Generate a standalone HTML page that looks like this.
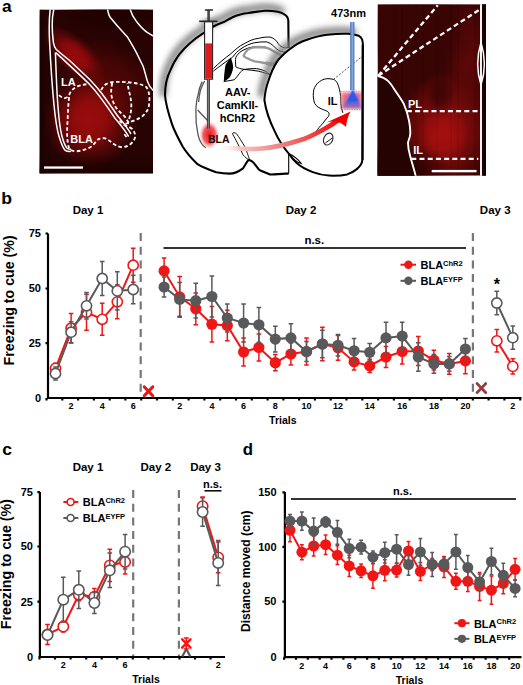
<!DOCTYPE html>
<html><head><meta charset="utf-8"><style>
html,body{margin:0;padding:0;background:#fff;}
svg{display:block;font-family:"Liberation Sans", sans-serif;}
</style></head><body>
<svg width="523" height="685" viewBox="0 0 523 685">
<text x="2.0" y="11.8" font-size="16.5" text-anchor="start" font-weight="bold" fill="#000" transform="translate(2.0,11.8) scale(1.05,1) translate(-2.0,-11.8)">a</text>
<defs>
  <filter id="blur1" x="-20%" y="-20%" width="140%" height="140%"><feGaussianBlur stdDeviation="1.6"/></filter>
  <filter id="blur2" x="-50%" y="-50%" width="200%" height="200%"><feGaussianBlur stdDeviation="3"/></filter>
  <filter id="blur6" x="-300%" y="-300%" width="700%" height="700%"><feGaussianBlur stdDeviation="7"/></filter>
  <filter id="blur10" x="-300%" y="-300%" width="700%" height="700%"><feGaussianBlur stdDeviation="10"/></filter>
  <clipPath id="clipP1"><rect x="39.5" y="9.5" width="113.5" height="164"/></clipPath>
  <clipPath id="clipP2"><rect x="377.5" y="4.2" width="108.5" height="171.5"/></clipPath>
  <radialGradient id="blaGlow" cx="0.5" cy="0.5" r="0.5">
    <stop offset="0" stop-color="#e8141c"/>
    <stop offset="0.6" stop-color="#f0303a" stop-opacity="0.8"/>
    <stop offset="1" stop-color="#ff9090" stop-opacity="0"/>
  </radialGradient>
  <linearGradient id="arrowG" gradientUnits="userSpaceOnUse" x1="215" y1="0" x2="345" y2="0">
    <stop offset="0" stop-color="#ffffff" stop-opacity="0"/>
    <stop offset="0.2" stop-color="#f6c4c4"/>
    <stop offset="0.6" stop-color="#f06a6a"/>
    <stop offset="1" stop-color="#ee0000"/>
  </linearGradient>
  <linearGradient id="fiberG" x1="0" y1="0" x2="1" y2="0">
    <stop offset="0" stop-color="#3f63b0"/>
    <stop offset="0.5" stop-color="#8eaee0"/>
    <stop offset="1" stop-color="#3f63b0"/>
  </linearGradient>
  <linearGradient id="coneG" x1="0" y1="0" x2="0" y2="1">
    <stop offset="0" stop-color="#1e50e8"/>
    <stop offset="0.55" stop-color="#4a58d0"/>
    <stop offset="1" stop-color="#c07090" stop-opacity="0.6"/>
  </linearGradient>
<radialGradient id="rg1"><stop offset="0" stop-color="#5a0606" stop-opacity="0.7"/><stop offset="0.35" stop-color="#5a0606" stop-opacity="0.63"/><stop offset="0.65" stop-color="#5a0606" stop-opacity="0.35"/><stop offset="1" stop-color="#5a0606" stop-opacity="0"/></radialGradient>
  <radialGradient id="rg2"><stop offset="0" stop-color="#960b0b" stop-opacity="0.85"/><stop offset="0.35" stop-color="#960b0b" stop-opacity="0.77"/><stop offset="0.65" stop-color="#960b0b" stop-opacity="0.42"/><stop offset="1" stop-color="#960b0b" stop-opacity="0"/></radialGradient>
  <radialGradient id="rg3"><stop offset="0" stop-color="#9a0a0a" stop-opacity="0.75"/><stop offset="0.35" stop-color="#9a0a0a" stop-opacity="0.68"/><stop offset="0.65" stop-color="#9a0a0a" stop-opacity="0.38"/><stop offset="1" stop-color="#9a0a0a" stop-opacity="0"/></radialGradient>
  <radialGradient id="rg4"><stop offset="0" stop-color="#b00e0e" stop-opacity="0.45"/><stop offset="0.35" stop-color="#b00e0e" stop-opacity="0.41"/><stop offset="0.65" stop-color="#b00e0e" stop-opacity="0.23"/><stop offset="1" stop-color="#b00e0e" stop-opacity="0"/></radialGradient>
  <radialGradient id="rg5"><stop offset="0" stop-color="#a80b0b" stop-opacity="0.5"/><stop offset="0.35" stop-color="#a80b0b" stop-opacity="0.45"/><stop offset="0.65" stop-color="#a80b0b" stop-opacity="0.25"/><stop offset="1" stop-color="#a80b0b" stop-opacity="0"/></radialGradient>
  <radialGradient id="rg6"><stop offset="0" stop-color="#200000" stop-opacity="1"/><stop offset="0.35" stop-color="#200000" stop-opacity="0.90"/><stop offset="0.65" stop-color="#200000" stop-opacity="0.50"/><stop offset="1" stop-color="#200000" stop-opacity="0"/></radialGradient>
  <radialGradient id="rg7"><stop offset="0" stop-color="#9a0d0d" stop-opacity="0.9"/><stop offset="0.35" stop-color="#9a0d0d" stop-opacity="0.81"/><stop offset="0.65" stop-color="#9a0d0d" stop-opacity="0.45"/><stop offset="1" stop-color="#9a0d0d" stop-opacity="0"/></radialGradient>
  <radialGradient id="rg8"><stop offset="0" stop-color="#6a0909" stop-opacity="0.7"/><stop offset="0.35" stop-color="#6a0909" stop-opacity="0.63"/><stop offset="0.65" stop-color="#6a0909" stop-opacity="0.35"/><stop offset="1" stop-color="#6a0909" stop-opacity="0"/></radialGradient>
  <radialGradient id="rg9"><stop offset="0" stop-color="#380404" stop-opacity="1"/><stop offset="0.35" stop-color="#380404" stop-opacity="0.90"/><stop offset="0.65" stop-color="#380404" stop-opacity="0.50"/><stop offset="1" stop-color="#380404" stop-opacity="0"/></radialGradient>
  <radialGradient id="rg10"><stop offset="0" stop-color="#2a0202" stop-opacity="1"/><stop offset="0.35" stop-color="#2a0202" stop-opacity="0.90"/><stop offset="0.65" stop-color="#2a0202" stop-opacity="0.50"/><stop offset="1" stop-color="#2a0202" stop-opacity="0"/></radialGradient>
  <radialGradient id="rg11"><stop offset="0" stop-color="#b81212" stop-opacity="0.5"/><stop offset="0.35" stop-color="#b81212" stop-opacity="0.45"/><stop offset="0.65" stop-color="#b81212" stop-opacity="0.25"/><stop offset="1" stop-color="#b81212" stop-opacity="0"/></radialGradient>
  <radialGradient id="rg12"><stop offset="0" stop-color="#200101" stop-opacity="0.55"/><stop offset="0.35" stop-color="#200101" stop-opacity="0.50"/><stop offset="0.65" stop-color="#200101" stop-opacity="0.28"/><stop offset="1" stop-color="#200101" stop-opacity="0"/></radialGradient>
</defs>

<!-- ============ photo 1 ============ -->
<g clip-path="url(#clipP1)">
  <rect x="39.5" y="9.5" width="113.5" height="164" fill="#280303"/>
  <ellipse cx="108" cy="78" rx="64.0" ry="36.0" fill="url(#rg1)" transform="rotate(25 108 78)"/>
    <ellipse cx="90" cy="120" rx="48.0" ry="48.0" fill="url(#rg2)"/>
    <ellipse cx="74" cy="54" rx="40.0" ry="17.0" fill="url(#rg3)" transform="rotate(42 74 54)"/>
  <ellipse cx="88" cy="118" rx="31.6" ry="33.6" fill="url(#rg4)"/>
    <ellipse cx="75" cy="56" rx="25.6" ry="14.6" fill="url(#rg5)" transform="rotate(42 75 56)"/>
    <ellipse cx="110" cy="14" rx="54.6" ry="19.6" fill="url(#rg6)"/>
    <g filter="url(#blur6)"><rect x="28" y="10" width="15" height="170" fill="#160000"/></g>
    <g filter="url(#blur6)"><rect x="30" y="165" width="140" height="20" fill="#1c0000"/></g>
  <g stroke="#fff" stroke-width="1.5" fill="none">
    <path d="M50.3,8 C48.8,20 49.2,35 49.6,42.4 C50.5,60 52,85 54,105 C55.5,120 57,130 59,136.3 C61,143 63,148 65.1,150.3 C67,151.5 69,151.5 71.1,151.3"/>
    <path d="M54.1,8 C51.5,18 51.8,30 53.4,42.4 C54,46 55,48 56.1,49.3 C60,53 64.5,56.5 69,60 C76,66.5 83,73 90.2,80 C94.5,84.5 98.5,89 102.2,94 C106,99 109,103.5 112.2,108 C115,112 117,115.5 119.3,118 C123.5,123 127.5,128 131,134"/>
    <path d="M55.4,52.5 C56,70 56.8,90 57.5,100 C58.5,115 59.5,127 62,136.3 C63.5,142 65,146 67.1,148.3 C68,149 70,149.3 71.1,149.3"/>
    <path d="M55.6,52.6 C59,55.5 63,59 66.6,62.6 C73.6,69.1 80.6,75.6 87.8,82.6 C92.1,87.1 96.1,91.6 99.8,96.6 C103.6,101.6 106.6,106.1 109.8,110.6 C112.6,114.6 114.6,118.1 116.9,120.6 C121.1,125.6 125.1,130.6 128.6,136.6"/>
    <path d="M107.4,8 C108,13 109,17 111.8,19.2 C118,27 124,33 127.5,37.1 C131,43 134,48 136.4,52.7 C139,58 141,62 143.1,66.2 C145,72 146,77 147.6,81.8 C149,86 151,89 155,91.9"/>
    <path d="M129.7,8 C131,13 133,17 136.4,21.4 C140,26 143,30 147.6,32.6 L155,37.1"/>
  </g>
  <g stroke="#fff" stroke-width="1.8" fill="none" stroke-dasharray="3.6,2.4">
    <path d="M59,95.1 C61,97 63,98 65.1,98.1 C67,97.5 68,96.5 69.1,95.1 C70,93 71,91 72.1,90.1 C74,88 76,87 78.1,86.1 C82,85 85,84.3 88.1,84.1"/>
    <path d="M69.1,97.1 C68.5,102 68.3,106 68.1,110.2 C67.8,117 67.3,124 67.1,130.2 C67,137 67.5,143 69.1,148.3 C71,150.5 73,151.3 76.1,151.3 C81,151 86,149.5 90.2,147.3 C94,145 96,141 98.2,139.3 C100,138.5 103,138 105.2,138.3 C108.5,139.5 111,142 114.2,144.3 C117,146 119,147 122.3,147.3 C125.5,147 128,146 130.3,144.3 C133,142 135,139 135.3,136.3 C135,133 134,131 132.3,129.2 C130,127 127,126 124.3,125.2 C122,123.5 120,121 118.3,119.2"/>
    <path d="M101.2,90.1 C102.5,87.5 104,85.5 106.2,84.1 C108.5,82.8 111,82 114.2,82 C121,81.8 128,82 134.3,83 C139,83.8 143,85 146.4,87.1 C148.5,90 149.4,94 149.4,98.1 C149.5,101.5 149.2,105 148.4,108.1 C147,111.5 145,114 142.4,116.2 C139,118.5 136,120 132.3,121.2 C129.5,122.3 127,123.3 124.3,124.2"/>
    <path d="M112.2,83 C111.5,87 111,90.5 111.2,94.1 C112,99 113.5,104 116.3,108.1 C118.5,111 121.5,113.5 124.3,116.2 C125.8,118 127,120 128.3,122.2 C129.5,117.5 131,113 131.3,108.1 C131.5,102 130.5,97 129.3,92.1 C128.5,89 128,86 127.3,83"/>
    <path d="M124.3,134.2 L128,139"/>
  </g>
  <text x="61" y="86.2" font-size="11" font-weight="bold" fill="#fff">LA</text>
  <text x="70.3" y="142.5" font-size="11" font-weight="bold" fill="#fff">BLA</text>
  <rect x="44" y="166.4" width="39" height="2.3" fill="#fff"/>
</g>

<!-- ============ photo 2 ============ -->
<g clip-path="url(#clipP2)">
  <rect x="377.5" y="4.2" width="108.5" height="171.5" fill="#380404"/>
  <ellipse cx="445" cy="130" rx="48.0" ry="58.0" fill="url(#rg7)"/>
    <ellipse cx="466.5" cy="60" rx="23.0" ry="66.0" fill="url(#rg8)"/>
    <ellipse cx="420" cy="35" rx="56.0" ry="46.0" fill="url(#rg9)"/>
    <ellipse cx="395" cy="170" rx="56.0" ry="28.0" fill="url(#rg10)"/>
  <ellipse cx="443" cy="137" rx="25.6" ry="27.6" fill="url(#rg11)"/>
    <ellipse cx="440" cy="97" rx="14.6" ry="19.6" fill="url(#rg12)"/>
  <g opacity="0.1" stroke="#000" stroke-width="1.2">
    <path d="M395,4V176M402,4V176M416,4V176M423,4V176M437,4V176M451,4V176M458,4V176M475,4V176"/>
  </g>
  <path d="M377,75.7 C383,77 386,79 388.2,81.2 C391,84 393,87 394.8,90 C398,95 401,99 403.6,103.4 C406,109 408,115 409.1,121 C410,126 410.5,131 410.2,134.2 C410,138 408,141 408,143 C408,148 409,152 410.2,156.2 C412,163 414,169 415.7,176 L370,176 Z" fill="#260303"/>
  <path d="M377,75.7 C383,77 386,79 388.2,81.2 C391,84 393,87 394.8,90 C398,95 401,99 403.6,103.4 C406,109 408,115 409.1,121 C410,126 410.5,131 410.2,134.2 C410,138 408,141 408,143 C408,148 409,152 410.2,156.2 C412,163 414,169 415.7,176" stroke="#fff" stroke-width="1.9" fill="none"/>
  <g stroke="#fff" stroke-width="2.3" fill="none" stroke-dasharray="5,3.2">
    <path d="M378.3,75.7 L437.7,5.3"/>
    <path d="M378.3,75.7 L479.4,9.7"/>
    <path d="M406.9,111.1 H480.5"/>
    <path d="M411.3,158.8 H478.3"/>
  </g>
  <rect x="482.3" y="4" width="4" height="172" fill="#160000"/>
  <path d="M481,4V176" stroke="#fff" stroke-width="1.9"/>
  <path d="M481,42.4 C476.5,57 476.5,71 481,84.8 C485.5,71 485.5,57 481,42.4 Z" fill="none" stroke="#fff" stroke-width="1.5"/>
  <text x="408" y="107.9" font-size="11" font-weight="bold" fill="#fff">PL</text>
  <text x="413.3" y="154" font-size="11" font-weight="bold" fill="#fff">IL</text>
  <rect x="431.7" y="169.9" width="44.9" height="2.4" fill="#fff"/>
</g>

<!-- ============ left brain ============ -->
<path d="M165,100 C165,85 167,77 170.3,70.4 C172.5,65 175.5,59.5 178.9,54.9 C182,51 185.5,47 189.3,43.7 C193.5,40 198,36.5 203,33.4 C206.5,31 210,28.5 213.3,26.5 C217,24.5 221,22.8 225,21.4 C227.5,20 230,18.5 232.6,17.2 C235,16 237.5,15.2 240.3,14.5 C243,13.8 245.5,13.3 248,13 C250.5,12.6 253,12.2 255.6,11.9 C259,11.4 262,11 265,10.7 C270,10.6 274,11 278,11.8 C281,12.5 284,14 286,15.5" fill="none" stroke="#808080" stroke-width="7" filter="url(#blur2)" transform="translate(-2,-3.5)"/>
<path d="M203,25 L215,20" stroke="#9a9a9a" stroke-width="6" filter="url(#blur2)"/>
<path d="M288.7,173.6 L285.8,173.6 C278,174 272,174.8 269.7,174.4 C265,172.5 261,171 259,169.6 C256,166 254,162.5 252.3,161.6 C251,160.5 249.5,160 248.3,160.2 C246,163 244.5,166.5 243,168.3 C238,172 234,173.6 229.6,173.6 C224,173.6 220,173 216.2,172.3 C208,169.5 202,167 197.5,164.2 C191,158 186,152 182.8,146.8 C177,136 174,130 172,124.1 C168,112 165.5,104 165,95 C165,85 167,77 170.3,70.4 C172.5,65 175.5,59.5 178.9,54.9 C182,51 185.5,47 189.3,43.7 C193.5,40 198,36.5 203,33.4 C206.5,31 210,28.5 213.3,26.5 C217,24.5 221,22.8 225,21.4 C227.5,20 230,18.5 232.6,17.2 C235,16 237.5,15.2 240.3,14.5 C243,13.8 245.5,13.3 248,13 C250.5,12.6 253,12.2 255.6,11.9 C259,11.4 262,11 265,10.7 C270,10.6 274,11 278,11.8 C281,12.5 284,14 286,15.5 C287.5,17 288.3,18.5 288.3,20 L288.6,48" fill="none" stroke="#000" stroke-width="2.1"/>
<!-- hippocampus -->
<g fill="none" stroke="#000" stroke-width="1">
  <path d="M213.4,68.6 C219,63 225,58 230.7,53.9 C235,50 239,46 244.4,43.6 C249,41 253,39 258.2,38.4 C262,37.5 266,36.8 270.2,37.1 C273,38 275.5,39.5 277.1,41.9 C278.5,44 279.5,45.5 280.6,46.2 C282,47.2 284,47.8 285.7,47.9 L289.2,47.3"/>
  <path d="M213.4,71.1 C220,66 226,61.5 232.4,57.4 C235,54 237.5,51 241,48.8 C245,46 250,43.5 254.8,42.7 C259,42 263,41.7 266.8,41.9 C270,43 272,44.5 273.7,46.2 C275.5,48 277,49.5 278.8,50.5 C282,52 285,52.3 287.5,52.2 L300,51"/>
  <path d="M235.8,66.8 C235.5,63 235.3,60 235.8,57.4 C237,55 239,53 241,51.4 C245,49 249,47.5 253,47 C257,46.7 261,46.7 265.1,47 C268.5,48 271,49.8 273.7,51.4 C276.5,53 279,54.3 282.3,54.8 L300,57"/>
  <path d="M235.8,66.8 C238,68 241,69 244.4,69.4 C249,70 254,70.5 258.2,71.1 C261,71.8 264,72.7 266.8,73.7 C268,74.2 269,74.5 270.2,74.6"/>
  <path d="M223.8,81.5 C227,81 231,80.5 234.1,79.8 C236,78 237.5,76 239.3,73.7 C240.5,71.5 242.5,70 244.4,69.4 C248,68.8 252,68.5 256.5,68.6 C259.5,69 262.5,70 265.1,71.1 C267,72.3 268.5,73.5 270.2,74.6"/>
</g>
<path d="M243.6,55.7 C244.5,53.5 246,51 247.9,49.6 C251,48 254.5,47.2 258.2,47 C261,47 264,47.3 266.8,47.9 C270,49 272.5,50.5 275.4,52.2 C277.5,53.5 280,55 282.3,55.7 C279,58 276,61 273.7,63.6 C270,63.5 268,63.3 265.1,63.1 C261,62.5 258,62 254.8,61.4 C251,60.5 248.5,59 246.1,57.7 C245,57 244,56.5 243.6,55.7 Z" fill="none" stroke="#989898" stroke-width="2.3"/>
<path d="M266,61 C270,63 275,64 280,64 L286,62 L284,66 C278,67 272,67 266,65 Z" fill="#aaa"/>
<path d="M223.8,81.5 C224,76 224.6,70 225.5,65.1 C227,62 228.8,59.5 230.7,57.4 C232,60.5 233,64 233.2,67.7 C232.5,71 231.5,74.5 229.8,77.2 C228,79 226,80.5 223.8,81.5 Z" fill="#000"/>
<!-- BLA structure lines -->
<g fill="none" stroke="#555" stroke-width="1.3">
  <path d="M202.2,81.6 C200,86 198.8,90 198.1,94.7 C196.5,100 196,105 195.9,111.1 C195.5,120 196.5,128 198.1,135.2 C199.5,141 202,145.5 205.8,147.8"/>
  <path d="M204.6,81 C203,84 201.5,87 200.5,90 C199.5,94 199,98 198.6,102"/>
  <path d="M197.6,110 L208,121"/>
</g>
<g fill="none" stroke="#000" stroke-width="0.9">
  <path d="M232.3,133.5 C236,140 240,148 243,154.9 C245,157 247,159 249.7,160.2 C248,155 246.5,151 245.7,148.2 C242,142 239,137 236.3,133.5 C235,132.5 233,132.5 232.3,133.5 Z"/>
</g>
<!-- BLA glow -->
<ellipse cx="209.3" cy="135" rx="10" ry="14" fill="url(#blaGlow)"/>

<!-- ============ right brain ============ -->
<path d="M264.4,100 C265,93 266.5,86 268.4,81 C271,73 273.5,67 276.8,62.1 C280,57 285,53 289.4,49.4 C295,45 300,42 306.3,40 C313,37.5 320,35.5 327.3,34.7 C335,33.8 342,33.5 348.3,33.7 C353,34 356,34.8 358.8,35.8" fill="none" stroke="#7c7c7c" stroke-width="7" filter="url(#blur2)" transform="translate(-3,-3)"/>
<path d="M264.4,100 C265,93 266.5,86 268.4,81 C271,73 273.5,67 276.8,62.1 C280,57 285,53 289.4,49.4 C295,45 300,42 306.3,40 C313,37.5 320,35.5 327.3,34.7 C335,33.8 342,33.5 348.3,33.7 C353,34 356,34.8 358.8,35.8 C361,37 362.5,39 362.6,42 L363,45.2 L362.3,160 C362,167 353,172.5 347.2,174.4 C341,175.8 335,175.8 328.8,175.6 C323,175.3 318,174 312.8,172.1 C306,169.5 300.5,166.5 296.7,163 C294,160.5 291.5,157.5 289.8,154.9 C284,148 279,141 275.1,132.1 C270,122 266,112 264.4,100 Z" fill="#fff" stroke="#000" stroke-width="2"/>
<g fill="none" stroke="#000" stroke-width="1.1">
  <path d="M288.8,153.5 C293,155.5 297.5,158.5 301.3,163.5 C297,162.5 292.5,158.5 288.8,153.5 Z"/>
  <path d="M288.7,153.8 V173.6"/>
</g>
<!-- IL contour -->
<path d="M333.5,79.4 C331,78.8 329,78.5 326.8,78.7 C323,79 320,81 317.4,83.4 C315,86 313.5,89 313.4,92.8 C313,96 313.5,100 314.7,103.5 C316,106 319,108 322.8,109.5 C325,110.5 328,111 328.8,112.8 C329.5,114 329,115.5 328.1,116.8 C326,119 324.5,121 322.8,123.5 C320,126 318,129 316,131.6" fill="none" stroke="#000" stroke-width="1"/>
<path d="M333.5,79.4 C336,80.5 338,82 340.2,92.8 C341,98 340.8,101 340.8,103.5 C341,107 342,110 342.8,112.8" fill="none" stroke="#000" stroke-width="1"/>
<ellipse cx="328.2" cy="139.1" rx="4.4" ry="6.2" transform="rotate(25 328.2 139.1)" stroke="#222" stroke-width="1.1" fill="none"/>
<path d="M325.4,143 L332.6,137.8" stroke="#222" stroke-width="1"/>
<path d="M333.5,79.4 L363,55.8" stroke="#000" stroke-width="0.7" stroke-dasharray="2,1.6"/>
<text x="327.8" y="104.8" font-size="11" font-weight="bold">IL</text>
<!-- IL box with glow -->
<g filter="url(#blur1)">
  <rect x="341.5" y="92.5" width="20" height="16.5" fill="#f05060" opacity="0.85"/>
  <path d="M352.9,89 C349,95 345,101 343,108 L362,108 C360,101 356,95 352.9,89 Z" fill="#4060e0"/>
  <rect x="343" y="104" width="18" height="5" fill="#c06a8a" opacity="0.7"/>
</g>
<path d="M352.9,90 C351,94 349,97.5 347.5,101 L358.3,101 C356.8,97.5 354.8,94 352.9,90 Z" fill="#2a5ae8" opacity="0.9"/>
<rect x="340.8" y="91.4" width="20.8" height="18.1" fill="none" stroke="#888" stroke-width="0.6" stroke-dasharray="1.5,1"/>
<path d="M362.6,45V160" stroke="#000" stroke-width="2"/>
<!-- fiber -->
<rect x="350.2" y="22.1" width="4.2" height="68" fill="url(#fiberG)"/>
<text x="348.5" y="17.3" font-size="11" font-weight="bold" text-anchor="middle">473nm</text>
<!-- arrow -->
<path d="M215,146.5 C235,149 250,149.5 262,148.5 C275,147.5 290,143.5 304.6,138.7 C314,135 320,131.5 326,128 C331,125 335,122.5 338,120.5" stroke="url(#arrowG)" stroke-width="4.6" fill="none"/>
<path d="M350.5,111.5 L327,122.3 C331,121.5 334.5,121.3 338,122 C341,123 343.5,124.5 346,127 C346.5,121.5 348,116 350.5,111.5 Z" fill="#ee0000"/>
<!-- syringe -->
<path d="M208.6,10.2V21" stroke="#4a4444" stroke-width="2.6"/><path d="M204.9,10H212.9" stroke="#222" stroke-width="1.5"/>
<path d="M199.2,21.3H217.5" stroke="#222" stroke-width="1.6"/>
<rect x="204.6" y="21.8" width="8" height="57.4" fill="#fff" stroke="#222" stroke-width="1.1"/>
<rect x="205.15" y="43.4" width="6.9" height="35.3" fill="#dd1a1e"/>
<path d="M207.4,79V128.6 M209.4,79V128.6" stroke="#333" stroke-width="1"/>
<path d="M208.4,79V128.6" stroke="#777" stroke-width="1.1"/>
<!-- labels -->
<text x="237.8" y="95.7" font-size="11" font-weight="bold" text-anchor="middle">AAV-</text>
<text x="237.5" y="109.2" font-size="11" font-weight="bold" text-anchor="middle">CamKII-</text>
<text x="237.4" y="122" font-size="11" font-weight="bold" text-anchor="middle">hChR2</text>
<text x="218.8" y="142.9" font-size="10.5" font-weight="bold" text-anchor="middle" fill="#1a0000">BLA</text>

<text x="1.2" y="204.3" font-size="16" text-anchor="start" font-weight="bold" fill="#000" transform="translate(1.2,204.3) scale(1.1,1) translate(-1.2,-204.3)">b</text>
<text x="88" y="213.8" font-size="11.5" text-anchor="middle" font-weight="bold" fill="#000" >Day 1</text>
<text x="301" y="213.9" font-size="11.5" text-anchor="middle" font-weight="bold" fill="#000" >Day 2</text>
<text x="495.2" y="213.8" font-size="11.5" text-anchor="middle" font-weight="bold" fill="#000" >Day 3</text>
<text transform="translate(13.6,300.4) rotate(-90)" font-size="14.2" text-anchor="middle" font-weight="bold">Freezing to cue (%)</text>
<path d="M48,233.5V398M45.5,233.5H48M45.5,288.5H48M45.5,343.2H48" stroke="#000" stroke-width="2.2" fill="none"/>
<path d="M47,398H521.5M46.5,398v2.5M62.3,398v2.5M78.1,398v2.5M93.9,398v2.5M109.7,398v2.5M125.4,398v2.5M141.2,398v2.5M157.0,398v2.5M172.8,398v2.5M188.6,398v2.5M204.4,398v2.5M220.2,398v2.5M236.0,398v2.5M251.8,398v2.5M267.6,398v2.5M283.4,398v2.5M299.1,398v2.5M314.9,398v2.5M330.7,398v2.5M346.5,398v2.5M362.3,398v2.5M378.1,398v2.5M393.9,398v2.5M409.7,398v2.5M425.5,398v2.5M441.2,398v2.5M457.0,398v2.5M472.8,398v2.5M488.6,398v2.5M504.4,398v2.5M520.2,398v2.5" stroke="#000" stroke-width="2.2" fill="none"/>
<text x="41" y="236.8" font-size="11" text-anchor="end" font-weight="bold" fill="#000" >75</text>
<text x="41" y="291.8" font-size="11" text-anchor="end" font-weight="bold" fill="#000" >50</text>
<text x="41" y="346.8" font-size="11" text-anchor="end" font-weight="bold" fill="#000" >25</text>
<text x="41" y="401.8" font-size="11" text-anchor="end" font-weight="bold" fill="#000" >0</text>
<text x="71.1" y="409" font-size="9" text-anchor="middle" font-weight="bold" fill="#000" >2</text>
<text x="102.2" y="409" font-size="9" text-anchor="middle" font-weight="bold" fill="#000" >4</text>
<text x="133.2" y="409" font-size="9" text-anchor="middle" font-weight="bold" fill="#000" >6</text>
<text x="179.7" y="409" font-size="9" text-anchor="middle" font-weight="bold" fill="#000" >2</text>
<text x="211.9" y="409" font-size="9" text-anchor="middle" font-weight="bold" fill="#000" >4</text>
<text x="243.6" y="409" font-size="9" text-anchor="middle" font-weight="bold" fill="#000" >6</text>
<text x="275.3" y="409" font-size="9" text-anchor="middle" font-weight="bold" fill="#000" >8</text>
<text x="306.5" y="409" font-size="9" text-anchor="middle" font-weight="bold" fill="#000" >10</text>
<text x="338" y="409" font-size="9" text-anchor="middle" font-weight="bold" fill="#000" >12</text>
<text x="369.7" y="409" font-size="9" text-anchor="middle" font-weight="bold" fill="#000" >14</text>
<text x="402.2" y="409" font-size="9" text-anchor="middle" font-weight="bold" fill="#000" >16</text>
<text x="433.9" y="409" font-size="9" text-anchor="middle" font-weight="bold" fill="#000" >18</text>
<text x="465.4" y="409" font-size="9" text-anchor="middle" font-weight="bold" fill="#000" >20</text>
<text x="512.8" y="409" font-size="9" text-anchor="middle" font-weight="bold" fill="#000" >2</text>
<text x="282.8" y="424" font-size="10.5" text-anchor="middle" font-weight="bold" fill="#000" >Trials</text>
<path d="M140.7,233V397M472.9,233V397" stroke="#777" stroke-width="2.2" stroke-dasharray="8,5.7" fill="none"/>
<path d="M163.5,248H466" stroke="#333" stroke-width="2" fill="none"/>
<text x="314.3" y="244.3" font-size="11.5" text-anchor="middle" font-weight="bold" fill="#000" >n.s.</text>
<polyline points="55.5,368.3 71.1,328.2 86.5,312.3 102.2,319.3 117.3,301.8 133.2,265.2" fill="none" stroke="#f01616" stroke-width="2.0"/>
<path d="M55.5,363.3V373.3M53.2,363.3h4.6M53.2,373.3h4.6" stroke="#f01616" stroke-width="1.5" fill="none"/>
<path d="M71.1,313.5V342.9M68.8,313.5h4.6M68.8,342.9h4.6" stroke="#f01616" stroke-width="1.5" fill="none"/>
<path d="M86.5,294.3V330.3M84.2,294.3h4.6M84.2,330.3h4.6" stroke="#f01616" stroke-width="1.5" fill="none"/>
<path d="M102.2,303.3V335.3M99.9,303.3h4.6M99.9,335.3h4.6" stroke="#f01616" stroke-width="1.5" fill="none"/>
<path d="M117.3,284.8V318.8M115.0,284.8h4.6M115.0,318.8h4.6" stroke="#f01616" stroke-width="1.5" fill="none"/>
<path d="M133.2,248.2V282.2M130.9,248.2h4.6M130.9,282.2h4.6" stroke="#f01616" stroke-width="1.5" fill="none"/>
<circle cx="55.5" cy="368.3" r="5.1000000000000005" fill="#fff" stroke="#f01616" stroke-width="1.6"/>
<circle cx="71.1" cy="328.2" r="5.1000000000000005" fill="#fff" stroke="#f01616" stroke-width="1.6"/>
<circle cx="86.5" cy="312.3" r="5.1000000000000005" fill="#fff" stroke="#f01616" stroke-width="1.6"/>
<circle cx="102.2" cy="319.3" r="5.1000000000000005" fill="#fff" stroke="#f01616" stroke-width="1.6"/>
<circle cx="117.3" cy="301.8" r="5.1000000000000005" fill="#fff" stroke="#f01616" stroke-width="1.6"/>
<circle cx="133.2" cy="265.2" r="5.1000000000000005" fill="#fff" stroke="#f01616" stroke-width="1.6"/>
<polyline points="55.5,373.5 71.1,332.2 86.5,305.8 102.2,278.5 117.3,290.9 133.2,289.5" fill="none" stroke="#58595b" stroke-width="2.0"/>
<path d="M55.5,367.0V380.0M53.2,367.0h4.6M53.2,380.0h4.6" stroke="#58595b" stroke-width="1.5" fill="none"/>
<path d="M71.1,321.7V342.7M68.8,321.7h4.6M68.8,342.7h4.6" stroke="#58595b" stroke-width="1.5" fill="none"/>
<path d="M86.5,292.5V319.1M84.2,292.5h4.6M84.2,319.1h4.6" stroke="#58595b" stroke-width="1.5" fill="none"/>
<path d="M102.2,261.5V295.5M99.9,261.5h4.6M99.9,295.5h4.6" stroke="#58595b" stroke-width="1.5" fill="none"/>
<path d="M117.3,271.7V310.1M115.0,271.7h4.6M115.0,310.1h4.6" stroke="#58595b" stroke-width="1.5" fill="none"/>
<path d="M133.2,275.2V303.8M130.9,275.2h4.6M130.9,303.8h4.6" stroke="#58595b" stroke-width="1.5" fill="none"/>
<circle cx="55.5" cy="373.5" r="5.1000000000000005" fill="#fff" stroke="#58595b" stroke-width="1.6"/>
<circle cx="71.1" cy="332.2" r="5.1000000000000005" fill="#fff" stroke="#58595b" stroke-width="1.6"/>
<circle cx="86.5" cy="305.8" r="5.1000000000000005" fill="#fff" stroke="#58595b" stroke-width="1.6"/>
<circle cx="102.2" cy="278.5" r="5.1000000000000005" fill="#fff" stroke="#58595b" stroke-width="1.6"/>
<circle cx="117.3" cy="290.9" r="5.1000000000000005" fill="#fff" stroke="#58595b" stroke-width="1.6"/>
<circle cx="133.2" cy="289.5" r="5.1000000000000005" fill="#fff" stroke="#58595b" stroke-width="1.6"/>
<polyline points="164.1,270.9 179.7,296.9 195.8,308.8 211.9,324.2 227.3,325.5 243.6,352.0 258.9,347.5 275.3,362.7 290.9,354.0 306.5,351.5 322.4,344.0 338.0,347.8 354.1,361.9 369.7,365.9 386.0,357.0 402.2,351.5 418.3,351.0 433.9,360.2 449.3,363.9 465.4,360.9" fill="none" stroke="#f01616" stroke-width="2.0"/>
<path d="M164.1,258.0V283.8M161.8,258.0h4.6M161.8,283.8h4.6" stroke="#f01616" stroke-width="1.5" fill="none"/>
<path d="M179.7,276.6V317.2M177.4,276.6h4.6M177.4,317.2h4.6" stroke="#f01616" stroke-width="1.5" fill="none"/>
<path d="M195.8,292.9V324.7M193.5,292.9h4.6M193.5,324.7h4.6" stroke="#f01616" stroke-width="1.5" fill="none"/>
<path d="M211.9,306.4V342.0M209.6,306.4h4.6M209.6,342.0h4.6" stroke="#f01616" stroke-width="1.5" fill="none"/>
<path d="M227.3,310.2V340.8M225.0,310.2h4.6M225.0,340.8h4.6" stroke="#f01616" stroke-width="1.5" fill="none"/>
<path d="M243.6,338.1V365.9M241.3,338.1h4.6M241.3,365.9h4.6" stroke="#f01616" stroke-width="1.5" fill="none"/>
<path d="M258.9,334.0V361.0M256.6,334.0h4.6M256.6,361.0h4.6" stroke="#f01616" stroke-width="1.5" fill="none"/>
<path d="M275.3,354.6V370.8M273.0,354.6h4.6M273.0,370.8h4.6" stroke="#f01616" stroke-width="1.5" fill="none"/>
<path d="M290.9,342.9V365.1M288.6,342.9h4.6M288.6,365.1h4.6" stroke="#f01616" stroke-width="1.5" fill="none"/>
<path d="M306.5,337.9V365.1M304.2,337.9h4.6M304.2,365.1h4.6" stroke="#f01616" stroke-width="1.5" fill="none"/>
<path d="M322.4,327.2V360.8M320.1,327.2h4.6M320.1,360.8h4.6" stroke="#f01616" stroke-width="1.5" fill="none"/>
<path d="M338.0,335.4V360.2M335.7,335.4h4.6M335.7,360.2h4.6" stroke="#f01616" stroke-width="1.5" fill="none"/>
<path d="M354.1,353.9V369.9M351.8,353.9h4.6M351.8,369.9h4.6" stroke="#f01616" stroke-width="1.5" fill="none"/>
<path d="M369.7,359.2V372.6M367.4,359.2h4.6M367.4,372.6h4.6" stroke="#f01616" stroke-width="1.5" fill="none"/>
<path d="M386.0,346.4V367.6M383.7,346.4h4.6M383.7,367.6h4.6" stroke="#f01616" stroke-width="1.5" fill="none"/>
<path d="M402.2,339.1V363.9M399.9,339.1h4.6M399.9,363.9h4.6" stroke="#f01616" stroke-width="1.5" fill="none"/>
<path d="M418.3,336.6V365.4M416.0,336.6h4.6M416.0,365.4h4.6" stroke="#f01616" stroke-width="1.5" fill="none"/>
<path d="M433.9,350.3V370.1M431.6,350.3h4.6M431.6,370.1h4.6" stroke="#f01616" stroke-width="1.5" fill="none"/>
<path d="M449.3,353.5V374.3M447.0,353.5h4.6M447.0,374.3h4.6" stroke="#f01616" stroke-width="1.5" fill="none"/>
<path d="M465.4,348.0V373.8M463.1,348.0h4.6M463.1,373.8h4.6" stroke="#f01616" stroke-width="1.5" fill="none"/>
<circle cx="164.1" cy="270.9" r="5.6" fill="#f01616"/>
<circle cx="179.7" cy="296.9" r="5.6" fill="#f01616"/>
<circle cx="195.8" cy="308.8" r="5.6" fill="#f01616"/>
<circle cx="211.9" cy="324.2" r="5.6" fill="#f01616"/>
<circle cx="227.3" cy="325.5" r="5.6" fill="#f01616"/>
<circle cx="243.6" cy="352.0" r="5.6" fill="#f01616"/>
<circle cx="258.9" cy="347.5" r="5.6" fill="#f01616"/>
<circle cx="275.3" cy="362.7" r="5.6" fill="#f01616"/>
<circle cx="290.9" cy="354.0" r="5.6" fill="#f01616"/>
<circle cx="306.5" cy="351.5" r="5.6" fill="#f01616"/>
<circle cx="322.4" cy="344.0" r="5.6" fill="#f01616"/>
<circle cx="338.0" cy="347.8" r="5.6" fill="#f01616"/>
<circle cx="354.1" cy="361.9" r="5.6" fill="#f01616"/>
<circle cx="369.7" cy="365.9" r="5.6" fill="#f01616"/>
<circle cx="386.0" cy="357.0" r="5.6" fill="#f01616"/>
<circle cx="402.2" cy="351.5" r="5.6" fill="#f01616"/>
<circle cx="418.3" cy="351.0" r="5.6" fill="#f01616"/>
<circle cx="433.9" cy="360.2" r="5.6" fill="#f01616"/>
<circle cx="449.3" cy="363.9" r="5.6" fill="#f01616"/>
<circle cx="465.4" cy="360.9" r="5.6" fill="#f01616"/>
<polyline points="164.1,287.0 179.7,299.4 195.8,300.7 211.9,296.5 227.3,318.0 243.6,323.0 258.9,324.8 275.3,339.1 290.9,337.9 306.5,351.5 322.4,344.0 338.0,345.3 354.1,350.8 369.7,352.3 386.0,337.9 402.2,336.1 418.3,357.0 433.9,363.9 449.3,363.9 465.4,349.0" fill="none" stroke="#58595b" stroke-width="2.0"/>
<path d="M164.1,277.0V297.0M161.8,277.0h4.6M161.8,297.0h4.6" stroke="#58595b" stroke-width="1.5" fill="none"/>
<path d="M179.7,282.5V316.3M177.4,282.5h4.6M177.4,316.3h4.6" stroke="#58595b" stroke-width="1.5" fill="none"/>
<path d="M195.8,283.3V318.1M193.5,283.3h4.6M193.5,318.1h4.6" stroke="#58595b" stroke-width="1.5" fill="none"/>
<path d="M211.9,275.9V317.1M209.6,275.9h4.6M209.6,317.1h4.6" stroke="#58595b" stroke-width="1.5" fill="none"/>
<path d="M227.3,303.9V332.1M225.0,303.9h4.6M225.0,332.1h4.6" stroke="#58595b" stroke-width="1.5" fill="none"/>
<path d="M243.6,303.9V342.1M241.3,303.9h4.6M241.3,342.1h4.6" stroke="#58595b" stroke-width="1.5" fill="none"/>
<path d="M258.9,307.4V342.2M256.6,307.4h4.6M256.6,342.2h4.6" stroke="#58595b" stroke-width="1.5" fill="none"/>
<path d="M275.3,326.2V352.0M273.0,326.2h4.6M273.0,352.0h4.6" stroke="#58595b" stroke-width="1.5" fill="none"/>
<path d="M290.9,323.7V352.1M288.6,323.7h4.6M288.6,352.1h4.6" stroke="#58595b" stroke-width="1.5" fill="none"/>
<path d="M306.5,341.5V361.5M304.2,341.5h4.6M304.2,361.5h4.6" stroke="#58595b" stroke-width="1.5" fill="none"/>
<path d="M322.4,330.3V357.7M320.1,330.3h4.6M320.1,357.7h4.6" stroke="#58595b" stroke-width="1.5" fill="none"/>
<path d="M338.0,334.6V356.0M335.7,334.6h4.6M335.7,356.0h4.6" stroke="#58595b" stroke-width="1.5" fill="none"/>
<path d="M354.1,338.6V363.0M351.8,338.6h4.6M351.8,363.0h4.6" stroke="#58595b" stroke-width="1.5" fill="none"/>
<path d="M369.7,343.6V361.0M367.4,343.6h4.6M367.4,361.0h4.6" stroke="#58595b" stroke-width="1.5" fill="none"/>
<path d="M386.0,322.2V353.6M383.7,322.2h4.6M383.7,353.6h4.6" stroke="#58595b" stroke-width="1.5" fill="none"/>
<path d="M402.2,322.2V350.0M399.9,322.2h4.6M399.9,350.0h4.6" stroke="#58595b" stroke-width="1.5" fill="none"/>
<path d="M418.3,342.7V371.3M416.0,342.7h4.6M416.0,371.3h4.6" stroke="#58595b" stroke-width="1.5" fill="none"/>
<path d="M433.9,354.5V373.3M431.6,354.5h4.6M431.6,373.3h4.6" stroke="#58595b" stroke-width="1.5" fill="none"/>
<path d="M449.3,356.5V371.3M447.0,356.5h4.6M447.0,371.3h4.6" stroke="#58595b" stroke-width="1.5" fill="none"/>
<path d="M465.4,338.6V359.4M463.1,338.6h4.6M463.1,359.4h4.6" stroke="#58595b" stroke-width="1.5" fill="none"/>
<circle cx="164.1" cy="287.0" r="5.6" fill="#58595b"/>
<circle cx="179.7" cy="299.4" r="5.6" fill="#58595b"/>
<circle cx="195.8" cy="300.7" r="5.6" fill="#58595b"/>
<circle cx="211.9" cy="296.5" r="5.6" fill="#58595b"/>
<circle cx="227.3" cy="318.0" r="5.6" fill="#58595b"/>
<circle cx="243.6" cy="323.0" r="5.6" fill="#58595b"/>
<circle cx="258.9" cy="324.8" r="5.6" fill="#58595b"/>
<circle cx="275.3" cy="339.1" r="5.6" fill="#58595b"/>
<circle cx="290.9" cy="337.9" r="5.6" fill="#58595b"/>
<circle cx="306.5" cy="351.5" r="5.6" fill="#58595b"/>
<circle cx="322.4" cy="344.0" r="5.6" fill="#58595b"/>
<circle cx="338.0" cy="345.3" r="5.6" fill="#58595b"/>
<circle cx="354.1" cy="350.8" r="5.6" fill="#58595b"/>
<circle cx="369.7" cy="352.3" r="5.6" fill="#58595b"/>
<circle cx="386.0" cy="337.9" r="5.6" fill="#58595b"/>
<circle cx="402.2" cy="336.1" r="5.6" fill="#58595b"/>
<circle cx="418.3" cy="357.0" r="5.6" fill="#58595b"/>
<circle cx="433.9" cy="363.9" r="5.6" fill="#58595b"/>
<circle cx="449.3" cy="363.9" r="5.6" fill="#58595b"/>
<circle cx="465.4" cy="349.0" r="5.6" fill="#58595b"/>
<polyline points="496.8,340.8 512.8,366.4" fill="none" stroke="#f01616" stroke-width="2.0"/>
<path d="M496.8,329.5V352.1M494.5,329.5h4.6M494.5,352.1h4.6" stroke="#f01616" stroke-width="1.5" fill="none"/>
<path d="M512.8,358.7V374.1M510.5,358.7h4.6M510.5,374.1h4.6" stroke="#f01616" stroke-width="1.5" fill="none"/>
<circle cx="496.8" cy="340.8" r="5.1000000000000005" fill="#fff" stroke="#f01616" stroke-width="1.6"/>
<circle cx="512.8" cy="366.4" r="5.1000000000000005" fill="#fff" stroke="#f01616" stroke-width="1.6"/>
<polyline points="496.8,303.0 512.8,337.7" fill="none" stroke="#58595b" stroke-width="2.0"/>
<path d="M496.8,291.3V314.7M494.5,291.3h4.6M494.5,314.7h4.6" stroke="#58595b" stroke-width="1.5" fill="none"/>
<path d="M512.8,326.1V349.3M510.5,326.1h4.6M510.5,349.3h4.6" stroke="#58595b" stroke-width="1.5" fill="none"/>
<circle cx="496.8" cy="303.0" r="5.1000000000000005" fill="#fff" stroke="#58595b" stroke-width="1.6"/>
<circle cx="512.8" cy="337.7" r="5.1000000000000005" fill="#fff" stroke="#58595b" stroke-width="1.6"/>
<text x="496.8" y="290" font-size="16" text-anchor="middle" font-weight="bold" fill="#000" >*</text>
<path d="M144.2,386.8L152.8,395.8M152.8,386.8L144.2,395.8" stroke="#58595b" stroke-width="2.8" stroke-linecap="round"/>
<path d="M144.2,386.8L152.8,395.8M152.8,386.8L144.2,395.8" stroke="#f01616" stroke-width="2.6" stroke-linecap="round" opacity="1.0"/>
<path d="M477.09999999999997,383.6L485.7,392.6M485.7,383.6L477.09999999999997,392.6" stroke="#58595b" stroke-width="2.8" stroke-linecap="round"/>
<path d="M477.09999999999997,383.6L485.7,392.6M485.7,383.6L477.09999999999997,392.6" stroke="#f01616" stroke-width="2.6" stroke-linecap="round" opacity="0.45"/>
<path d="M400.5,264.7H416" stroke="#f01616" stroke-width="2"/>
<circle cx="408.4" cy="264.7" r="4.2" fill="#f01616"/>
<text x="420.5" y="269.0" font-size="11" text-anchor="start" font-weight="bold" fill="#000" >BLA<tspan font-size="7.5" dy="-3.5">ChR2</tspan></text>
<path d="M400.5,280.8H416" stroke="#58595b" stroke-width="2"/>
<circle cx="408.4" cy="280.8" r="4.2" fill="#58595b"/>
<text x="420.5" y="285.1" font-size="11" text-anchor="start" font-weight="bold" fill="#000" >BLA<tspan font-size="7.5" dy="-3.5">EYFP</tspan></text>
<text x="2.2" y="455" font-size="16" text-anchor="start" font-weight="bold" fill="#000" transform="translate(2.2,455) scale(1.1,1) translate(-2.2,-455)">c</text>
<text x="88" y="470.5" font-size="11.5" text-anchor="middle" font-weight="bold" fill="#000" >Day 1</text>
<text x="155.9" y="470.5" font-size="11.5" text-anchor="middle" font-weight="bold" fill="#000" >Day 2</text>
<text x="205.5" y="470.5" font-size="11.5" text-anchor="middle" font-weight="bold" fill="#000" >Day 3</text>
<text transform="translate(11.1,564.1) rotate(-90)" font-size="14.2" text-anchor="middle" font-weight="bold">Freezing to cue (%)</text>
<path d="M39.9,492V657M37.4,492.2H39.9M37.4,546.5H39.9M37.4,601.7H39.9" stroke="#000" stroke-width="2.2" fill="none"/>
<path d="M38.5,657H225M39.5,657v2.5M55.0,657v2.5M70.6,657v2.5M86.2,657v2.5M101.7,657v2.5M117.2,657v2.5M132.8,657v2.5M148.4,657v2.5M163.9,657v2.5M179.5,657v2.5M195.0,657v2.5M210.6,657v2.5" stroke="#000" stroke-width="2.2" fill="none"/>
<text x="33" y="495.8" font-size="11" text-anchor="end" font-weight="bold" fill="#000" >75</text>
<text x="33" y="550.3" font-size="11" text-anchor="end" font-weight="bold" fill="#000" >50</text>
<text x="33" y="605.5" font-size="11" text-anchor="end" font-weight="bold" fill="#000" >25</text>
<text x="33" y="660.8" font-size="11" text-anchor="end" font-weight="bold" fill="#000" >0</text>
<text x="63.3" y="667.5" font-size="9" text-anchor="middle" font-weight="bold" fill="#000" >2</text>
<text x="94.4" y="667.5" font-size="9" text-anchor="middle" font-weight="bold" fill="#000" >4</text>
<text x="125.1" y="667.5" font-size="9" text-anchor="middle" font-weight="bold" fill="#000" >6</text>
<text x="218.2" y="667.5" font-size="9" text-anchor="middle" font-weight="bold" fill="#000" >2</text>
<text x="146" y="683" font-size="10.5" text-anchor="middle" font-weight="bold" fill="#000" >Trials</text>
<path d="M133.2,490V656M178.9,490V656" stroke="#777" stroke-width="2.2" stroke-dasharray="8,5.7" fill="none"/>
<text x="212.5" y="488.3" font-size="11" text-anchor="middle" font-weight="bold" fill="#000" >n.s.</text>
<path d="M204.5,490.8H221.5" stroke="#000" stroke-width="1.5"/>
<polyline points="47.5,634.5 63.3,626.6 78.8,594.7 94.4,596.7 109.8,565.4 125.1,562.0" fill="none" stroke="#f01616" stroke-width="2.0"/>
<path d="M47.5,624.5V644.5M45.2,624.5h4.6M45.2,644.5h4.6" stroke="#f01616" stroke-width="1.5" fill="none"/>
<path d="M63.3,621.2V632.0M61.0,621.2h4.6M61.0,632.0h4.6" stroke="#f01616" stroke-width="1.5" fill="none"/>
<path d="M78.8,588.7V600.7M76.5,588.7h4.6M76.5,600.7h4.6" stroke="#f01616" stroke-width="1.5" fill="none"/>
<path d="M94.4,588.5V604.9M92.1,588.5h4.6M92.1,604.9h4.6" stroke="#f01616" stroke-width="1.5" fill="none"/>
<path d="M109.8,549.3V581.5M107.5,549.3h4.6M107.5,581.5h4.6" stroke="#f01616" stroke-width="1.5" fill="none"/>
<path d="M125.1,550.1V573.9M122.8,550.1h4.6M122.8,573.9h4.6" stroke="#f01616" stroke-width="1.5" fill="none"/>
<circle cx="47.5" cy="634.5" r="5.2" fill="#fff" stroke="#f01616" stroke-width="1.6"/>
<circle cx="63.3" cy="626.6" r="5.2" fill="#fff" stroke="#f01616" stroke-width="1.6"/>
<circle cx="78.8" cy="594.7" r="5.2" fill="#fff" stroke="#f01616" stroke-width="1.6"/>
<circle cx="94.4" cy="596.7" r="5.2" fill="#fff" stroke="#f01616" stroke-width="1.6"/>
<circle cx="109.8" cy="565.4" r="5.2" fill="#fff" stroke="#f01616" stroke-width="1.6"/>
<circle cx="125.1" cy="562.0" r="5.2" fill="#fff" stroke="#f01616" stroke-width="1.6"/>
<polyline points="47.5,635.0 63.3,599.7 78.8,589.8 94.4,603.0 109.8,570.3 125.1,551.7" fill="none" stroke="#58595b" stroke-width="2.0"/>
<path d="M47.5,631.0V639.0M45.2,631.0h4.6M45.2,639.0h4.6" stroke="#58595b" stroke-width="1.5" fill="none"/>
<path d="M63.3,577.3V622.1M61.0,577.3h4.6M61.0,622.1h4.6" stroke="#58595b" stroke-width="1.5" fill="none"/>
<path d="M78.8,571.1V608.5M76.5,571.1h4.6M76.5,608.5h4.6" stroke="#58595b" stroke-width="1.5" fill="none"/>
<path d="M94.4,592.6V613.4M92.1,592.6h4.6M92.1,613.4h4.6" stroke="#58595b" stroke-width="1.5" fill="none"/>
<path d="M109.8,553.1V587.5M107.5,553.1h4.6M107.5,587.5h4.6" stroke="#58595b" stroke-width="1.5" fill="none"/>
<path d="M125.1,534.4V569.0M122.8,534.4h4.6M122.8,569.0h4.6" stroke="#58595b" stroke-width="1.5" fill="none"/>
<circle cx="47.5" cy="635.0" r="5.2" fill="#fff" stroke="#58595b" stroke-width="1.6"/>
<circle cx="63.3" cy="599.7" r="5.2" fill="#fff" stroke="#58595b" stroke-width="1.6"/>
<circle cx="78.8" cy="589.8" r="5.2" fill="#fff" stroke="#58595b" stroke-width="1.6"/>
<circle cx="94.4" cy="603.0" r="5.2" fill="#fff" stroke="#58595b" stroke-width="1.6"/>
<circle cx="109.8" cy="570.3" r="5.2" fill="#fff" stroke="#58595b" stroke-width="1.6"/>
<circle cx="125.1" cy="551.7" r="5.2" fill="#fff" stroke="#58595b" stroke-width="1.6"/>
<polyline points="202.6,506.2 218.2,557.4" fill="none" stroke="#f01616" stroke-width="2.0"/>
<path d="M202.6,497.0V515.4M200.3,497.0h4.6M200.3,515.4h4.6" stroke="#f01616" stroke-width="1.5" fill="none"/>
<path d="M218.2,542.0V572.8M215.9,542.0h4.6M215.9,572.8h4.6" stroke="#f01616" stroke-width="1.5" fill="none"/>
<circle cx="202.6" cy="506.2" r="5.2" fill="#fff" stroke="#f01616" stroke-width="1.6"/>
<circle cx="218.2" cy="557.4" r="5.2" fill="#fff" stroke="#f01616" stroke-width="1.6"/>
<polyline points="202.6,512.0 218.2,562.9" fill="none" stroke="#58595b" stroke-width="2.0"/>
<path d="M202.6,497.8V526.2M200.3,497.8h4.6M200.3,526.2h4.6" stroke="#58595b" stroke-width="1.5" fill="none"/>
<path d="M218.2,540.4V585.4M215.9,540.4h4.6M215.9,585.4h4.6" stroke="#58595b" stroke-width="1.5" fill="none"/>
<circle cx="202.6" cy="512.0" r="5.2" fill="#fff" stroke="#58595b" stroke-width="1.6"/>
<circle cx="218.2" cy="562.9" r="5.2" fill="#fff" stroke="#58595b" stroke-width="1.6"/>
<path d="M182.3,656.5L186.3,649L190.3,656.5" fill="none" stroke="#58595b" stroke-width="2.2"/>
<path d="M186.3,638.0V649.0M183.8,638.0h5M183.8,649.0h5" stroke="#f01616" stroke-width="1.6"/>
<path d="M182.10000000000002,639.3L190.5,647.7M190.5,639.3L182.10000000000002,647.7" stroke="#f01616" stroke-width="2.4" stroke-linecap="round"/>
<path d="M63.4,502.0H78.3" stroke="#f01616" stroke-width="2"/>
<circle cx="70.6" cy="502.0" r="3.5" fill="#fff" stroke="#f01616" stroke-width="1.7"/>
<text x="82.8" y="506.3" font-size="11" text-anchor="start" font-weight="bold" fill="#000" >BLA<tspan font-size="7.5" dy="-3.5">ChR2</tspan></text>
<path d="M63.4,518.0H78.3" stroke="#58595b" stroke-width="2"/>
<circle cx="70.6" cy="518.0" r="3.5" fill="#fff" stroke="#58595b" stroke-width="1.7"/>
<text x="82.8" y="522.3" font-size="11" text-anchor="start" font-weight="bold" fill="#000" >BLA<tspan font-size="7.5" dy="-3.5">EYFP</tspan></text>
<text x="242.8" y="455.3" font-size="16" text-anchor="start" font-weight="bold" fill="#000" transform="translate(242.8,455.3) scale(1.05,1) translate(-242.8,-455.3)">d</text>
<text transform="translate(250.2,571.2) rotate(-90)" font-size="12.1" text-anchor="middle" font-weight="bold">Distance moved (cm)</text>
<path d="M284.9,492V657.2M282.4,492.3H284.9M282.4,546.9H284.9M282.4,601.6H284.9" stroke="#000" stroke-width="2.2" fill="none"/>
<path d="M283.8,657.2H521.5M284.1,657.2v2.5M296.0,657.2v2.5M307.8,657.2v2.5M319.7,657.2v2.5M331.5,657.2v2.5M343.4,657.2v2.5M355.2,657.2v2.5M367.1,657.2v2.5M378.9,657.2v2.5M390.8,657.2v2.5M402.6,657.2v2.5M414.5,657.2v2.5M426.3,657.2v2.5M438.1,657.2v2.5M450.0,657.2v2.5M461.9,657.2v2.5M473.7,657.2v2.5M485.6,657.2v2.5M497.4,657.2v2.5M509.2,657.2v2.5" stroke="#000" stroke-width="2.2" fill="none"/>
<text x="276.5" y="495.8" font-size="11" text-anchor="end" font-weight="bold" fill="#000" >150</text>
<text x="276.5" y="550.5" font-size="11" text-anchor="end" font-weight="bold" fill="#000" >100</text>
<text x="276.5" y="605.2" font-size="11" text-anchor="end" font-weight="bold" fill="#000" >50</text>
<text x="276.5" y="660.8" font-size="11" text-anchor="end" font-weight="bold" fill="#000" >0</text>
<text x="301.85" y="668.7" font-size="9" text-anchor="middle" font-weight="bold" fill="#000" >2</text>
<text x="325.55" y="668.7" font-size="9" text-anchor="middle" font-weight="bold" fill="#000" >4</text>
<text x="349.25" y="668.7" font-size="9" text-anchor="middle" font-weight="bold" fill="#000" >6</text>
<text x="372.95" y="668.7" font-size="9" text-anchor="middle" font-weight="bold" fill="#000" >8</text>
<text x="396.65" y="668.7" font-size="9" text-anchor="middle" font-weight="bold" fill="#000" >10</text>
<text x="420.35" y="668.7" font-size="9" text-anchor="middle" font-weight="bold" fill="#000" >12</text>
<text x="444.04999999999995" y="668.7" font-size="9" text-anchor="middle" font-weight="bold" fill="#000" >14</text>
<text x="467.75" y="668.7" font-size="9" text-anchor="middle" font-weight="bold" fill="#000" >16</text>
<text x="491.45" y="668.7" font-size="9" text-anchor="middle" font-weight="bold" fill="#000" >18</text>
<text x="515.15" y="668.7" font-size="9" text-anchor="middle" font-weight="bold" fill="#000" >20</text>
<text x="409.5" y="683.5" font-size="10.5" text-anchor="middle" font-weight="bold" fill="#000" >Trials</text>
<path d="M291,499H516" stroke="#333" stroke-width="2"/>
<text x="402.5" y="495" font-size="11" text-anchor="middle" font-weight="bold" fill="#000" >n.s.</text>
<polyline points="290.0,530.3 301.9,552.2 313.7,546.0 325.6,544.7 337.4,555.2 349.2,565.9 361.1,570.8 372.9,575.8 384.8,570.3 396.6,570.1 408.5,551.0 420.4,571.4 432.2,564.5 444.0,566.9 455.9,581.3 467.8,581.3 479.6,586.4 491.4,590.2 503.3,583.4 515.1,569.3" fill="none" stroke="#f01616" stroke-width="2.0"/>
<path d="M290.0,518.8V541.8M288.1,518.8h3.8M288.1,541.8h3.8" stroke="#f01616" stroke-width="1.5" fill="none"/>
<path d="M301.9,544.7V559.7M300.0,544.7h3.8M300.0,559.7h3.8" stroke="#f01616" stroke-width="1.5" fill="none"/>
<path d="M313.7,536.1V555.9M311.8,536.1h3.8M311.8,555.9h3.8" stroke="#f01616" stroke-width="1.5" fill="none"/>
<path d="M325.6,535.0V554.4M323.7,535.0h3.8M323.7,554.4h3.8" stroke="#f01616" stroke-width="1.5" fill="none"/>
<path d="M337.4,545.8V564.6M335.5,545.8h3.8M335.5,564.6h3.8" stroke="#f01616" stroke-width="1.5" fill="none"/>
<path d="M349.2,555.2V576.6M347.4,555.2h3.8M347.4,576.6h3.8" stroke="#f01616" stroke-width="1.5" fill="none"/>
<path d="M361.1,564.0V577.6M359.2,564.0h3.8M359.2,577.6h3.8" stroke="#f01616" stroke-width="1.5" fill="none"/>
<path d="M372.9,563.4V588.2M371.1,563.4h3.8M371.1,588.2h3.8" stroke="#f01616" stroke-width="1.5" fill="none"/>
<path d="M384.8,559.8V580.8M382.9,559.8h3.8M382.9,580.8h3.8" stroke="#f01616" stroke-width="1.5" fill="none"/>
<path d="M396.6,563.1V577.1M394.8,563.1h3.8M394.8,577.1h3.8" stroke="#f01616" stroke-width="1.5" fill="none"/>
<path d="M408.5,541.4V560.6M406.6,541.4h3.8M406.6,560.6h3.8" stroke="#f01616" stroke-width="1.5" fill="none"/>
<path d="M420.4,562.4V580.4M418.5,562.4h3.8M418.5,580.4h3.8" stroke="#f01616" stroke-width="1.5" fill="none"/>
<path d="M432.2,558.5V570.5M430.3,558.5h3.8M430.3,570.5h3.8" stroke="#f01616" stroke-width="1.5" fill="none"/>
<path d="M444.0,556.4V577.4M442.1,556.4h3.8M442.1,577.4h3.8" stroke="#f01616" stroke-width="1.5" fill="none"/>
<path d="M455.9,573.3V589.3M454.0,573.3h3.8M454.0,589.3h3.8" stroke="#f01616" stroke-width="1.5" fill="none"/>
<path d="M467.8,571.2V591.4M465.9,571.2h3.8M465.9,591.4h3.8" stroke="#f01616" stroke-width="1.5" fill="none"/>
<path d="M479.6,572.4V600.4M477.7,572.4h3.8M477.7,600.4h3.8" stroke="#f01616" stroke-width="1.5" fill="none"/>
<path d="M491.4,576.1V604.3M489.6,576.1h3.8M489.6,604.3h3.8" stroke="#f01616" stroke-width="1.5" fill="none"/>
<path d="M503.3,573.0V593.8M501.4,573.0h3.8M501.4,593.8h3.8" stroke="#f01616" stroke-width="1.5" fill="none"/>
<path d="M515.1,558.5V580.1M513.2,558.5h3.8M513.2,580.1h3.8" stroke="#f01616" stroke-width="1.5" fill="none"/>
<circle cx="290.0" cy="530.3" r="5.5" fill="#f01616"/>
<circle cx="301.9" cy="552.2" r="5.5" fill="#f01616"/>
<circle cx="313.7" cy="546.0" r="5.5" fill="#f01616"/>
<circle cx="325.6" cy="544.7" r="5.5" fill="#f01616"/>
<circle cx="337.4" cy="555.2" r="5.5" fill="#f01616"/>
<circle cx="349.2" cy="565.9" r="5.5" fill="#f01616"/>
<circle cx="361.1" cy="570.8" r="5.5" fill="#f01616"/>
<circle cx="372.9" cy="575.8" r="5.5" fill="#f01616"/>
<circle cx="384.8" cy="570.3" r="5.5" fill="#f01616"/>
<circle cx="396.6" cy="570.1" r="5.5" fill="#f01616"/>
<circle cx="408.5" cy="551.0" r="5.5" fill="#f01616"/>
<circle cx="420.4" cy="571.4" r="5.5" fill="#f01616"/>
<circle cx="432.2" cy="564.5" r="5.5" fill="#f01616"/>
<circle cx="444.0" cy="566.9" r="5.5" fill="#f01616"/>
<circle cx="455.9" cy="581.3" r="5.5" fill="#f01616"/>
<circle cx="467.8" cy="581.3" r="5.5" fill="#f01616"/>
<circle cx="479.6" cy="586.4" r="5.5" fill="#f01616"/>
<circle cx="491.4" cy="590.2" r="5.5" fill="#f01616"/>
<circle cx="503.3" cy="583.4" r="5.5" fill="#f01616"/>
<circle cx="515.1" cy="569.3" r="5.5" fill="#f01616"/>
<polyline points="290.0,521.1 301.9,521.1 313.7,531.1 325.6,521.9 337.4,532.3 349.2,548.5 361.1,547.2 372.9,557.2 384.8,552.7 396.6,549.2 408.5,564.5 420.4,551.9 432.2,564.5 444.0,563.9 455.9,551.9 467.8,567.5 479.6,581.9 491.4,561.5 503.3,575.3 515.1,588.4" fill="none" stroke="#58595b" stroke-width="2.0"/>
<path d="M290.0,514.4V527.8M288.1,514.4h3.8M288.1,527.8h3.8" stroke="#58595b" stroke-width="1.5" fill="none"/>
<path d="M301.9,511.9V530.3M300.0,511.9h3.8M300.0,530.3h3.8" stroke="#58595b" stroke-width="1.5" fill="none"/>
<path d="M313.7,517.9V544.3M311.8,517.9h3.8M311.8,544.3h3.8" stroke="#58595b" stroke-width="1.5" fill="none"/>
<path d="M325.6,516.9V526.9M323.7,516.9h3.8M323.7,526.9h3.8" stroke="#58595b" stroke-width="1.5" fill="none"/>
<path d="M337.4,520.4V544.2M335.5,520.4h3.8M335.5,544.2h3.8" stroke="#58595b" stroke-width="1.5" fill="none"/>
<path d="M349.2,539.3V557.7M347.4,539.3h3.8M347.4,557.7h3.8" stroke="#58595b" stroke-width="1.5" fill="none"/>
<path d="M361.1,540.3V554.1M359.2,540.3h3.8M359.2,554.1h3.8" stroke="#58595b" stroke-width="1.5" fill="none"/>
<path d="M372.9,551.0V563.4M371.1,551.0h3.8M371.1,563.4h3.8" stroke="#58595b" stroke-width="1.5" fill="none"/>
<path d="M384.8,542.3V563.1M382.9,542.3h3.8M382.9,563.1h3.8" stroke="#58595b" stroke-width="1.5" fill="none"/>
<path d="M396.6,534.8V563.6M394.8,534.8h3.8M394.8,563.6h3.8" stroke="#58595b" stroke-width="1.5" fill="none"/>
<path d="M408.5,553.7V575.3M406.6,553.7h3.8M406.6,575.3h3.8" stroke="#58595b" stroke-width="1.5" fill="none"/>
<path d="M420.4,538.4V565.4M418.5,538.4h3.8M418.5,565.4h3.8" stroke="#58595b" stroke-width="1.5" fill="none"/>
<path d="M432.2,552.5V576.5M430.3,552.5h3.8M430.3,576.5h3.8" stroke="#58595b" stroke-width="1.5" fill="none"/>
<path d="M444.0,557.9V569.9M442.1,557.9h3.8M442.1,569.9h3.8" stroke="#58595b" stroke-width="1.5" fill="none"/>
<path d="M455.9,534.5V569.3M454.0,534.5h3.8M454.0,569.3h3.8" stroke="#58595b" stroke-width="1.5" fill="none"/>
<path d="M467.8,555.5V579.5M465.9,555.5h3.8M465.9,579.5h3.8" stroke="#58595b" stroke-width="1.5" fill="none"/>
<path d="M479.6,573.9V589.9M477.7,573.9h3.8M477.7,589.9h3.8" stroke="#58595b" stroke-width="1.5" fill="none"/>
<path d="M491.4,548.3V574.7M489.6,548.3h3.8M489.6,574.7h3.8" stroke="#58595b" stroke-width="1.5" fill="none"/>
<path d="M503.3,563.3V587.3M501.4,563.3h3.8M501.4,587.3h3.8" stroke="#58595b" stroke-width="1.5" fill="none"/>
<path d="M515.1,580.0V596.8M513.2,580.0h3.8M513.2,596.8h3.8" stroke="#58595b" stroke-width="1.5" fill="none"/>
<circle cx="290.0" cy="521.1" r="5.5" fill="#58595b"/>
<circle cx="301.9" cy="521.1" r="5.5" fill="#58595b"/>
<circle cx="313.7" cy="531.1" r="5.5" fill="#58595b"/>
<circle cx="325.6" cy="521.9" r="5.5" fill="#58595b"/>
<circle cx="337.4" cy="532.3" r="5.5" fill="#58595b"/>
<circle cx="349.2" cy="548.5" r="5.5" fill="#58595b"/>
<circle cx="361.1" cy="547.2" r="5.5" fill="#58595b"/>
<circle cx="372.9" cy="557.2" r="5.5" fill="#58595b"/>
<circle cx="384.8" cy="552.7" r="5.5" fill="#58595b"/>
<circle cx="396.6" cy="549.2" r="5.5" fill="#58595b"/>
<circle cx="408.5" cy="564.5" r="5.5" fill="#58595b"/>
<circle cx="420.4" cy="551.9" r="5.5" fill="#58595b"/>
<circle cx="432.2" cy="564.5" r="5.5" fill="#58595b"/>
<circle cx="444.0" cy="563.9" r="5.5" fill="#58595b"/>
<circle cx="455.9" cy="551.9" r="5.5" fill="#58595b"/>
<circle cx="467.8" cy="567.5" r="5.5" fill="#58595b"/>
<circle cx="479.6" cy="581.9" r="5.5" fill="#58595b"/>
<circle cx="491.4" cy="561.5" r="5.5" fill="#58595b"/>
<circle cx="503.3" cy="575.3" r="5.5" fill="#58595b"/>
<circle cx="515.1" cy="588.4" r="5.5" fill="#58595b"/>
<path d="M454.4,623.2H469.4" stroke="#f01616" stroke-width="2"/>
<circle cx="461.9" cy="623.2" r="4.1" fill="#f01616"/>
<text x="473.9" y="627.7" font-size="11" text-anchor="start" font-weight="bold" fill="#000" >BLA<tspan font-size="7.5" dy="-3.5">ChR2</tspan></text>
<path d="M454.4,638.8H469.4" stroke="#58595b" stroke-width="2"/>
<circle cx="461.9" cy="638.8" r="4.1" fill="#58595b"/>
<text x="473.9" y="643.3" font-size="11" text-anchor="start" font-weight="bold" fill="#000" >BLA<tspan font-size="7.5" dy="-3.5">EYFP</tspan></text>
</svg></body></html>
